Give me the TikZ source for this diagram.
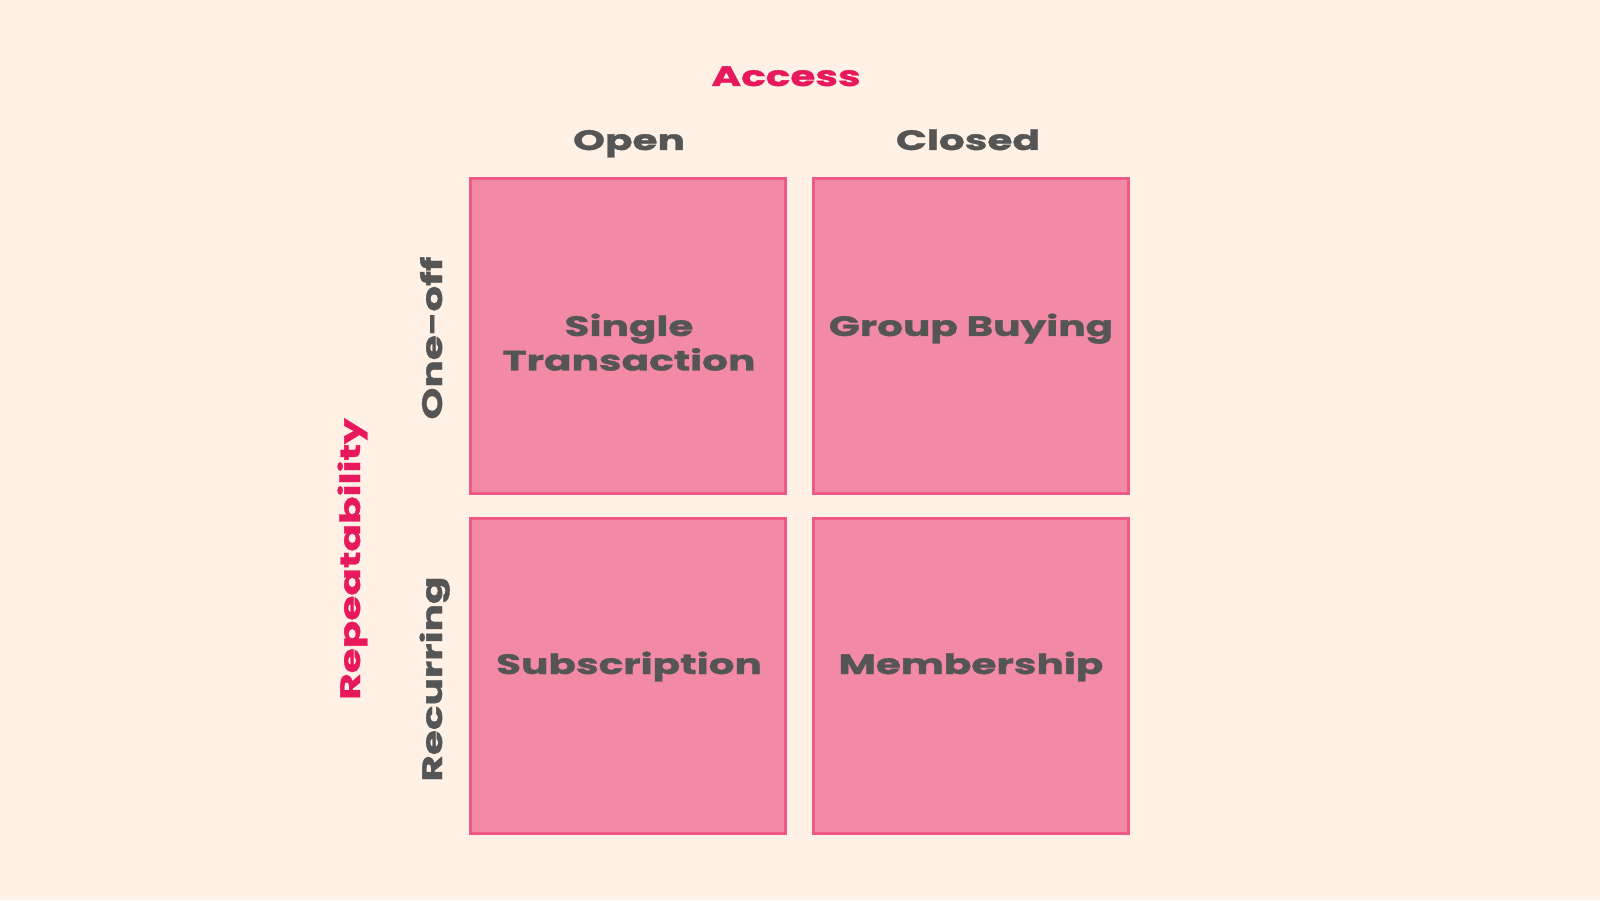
\documentclass[tikz,border=0pt]{standalone}
\usepackage{fontspec}
\setmainfont{Poppins}[FakeStretch=1.45,BoldFeatures={FakeBold=1.2}]
\usetikzlibrary{positioning,calc}
\definecolor{bgc}{HTML}{FFF1E6}
\definecolor{cellfill}{HTML}{F28AA5}
\definecolor{celldraw}{HTML}{EE5A87}
\definecolor{txtgray}{HTML}{555555}
\definecolor{accent}{HTML}{E8185D}
\tikzset{
  x=1pt,y=1pt,
  cell/.style={draw=celldraw,fill=cellfill,line width=3pt,minimum width=315pt,minimum height=315pt,inner sep=0pt},
  celltext/.style={font=\fontsize{28}{32}\selectfont\bfseries,text=txtgray,anchor=base,inner sep=0pt},
  headtext/.style={font=\fontsize{28}{32}\selectfont\bfseries,text=txtgray,anchor=base,inner sep=0pt},
  axistext/.style={font=\fontsize{28}{32}\selectfont\bfseries,text=accent,anchor=base,inner sep=0pt}
}
\begin{document}
\begin{tikzpicture}
\fill[bgc] (0,0) rectangle (1600,900);
\useasboundingbox (0,0) rectangle (1600,900);
% cells
\node[cell] (a) at (628,564) {};
\node[cell] (b) at (971,564) {};
\node[cell] (c) at (628,224) {};
\node[cell] (d) at (971,224) {};
% cell labels
\node[celltext] (la1) at (629,900-336) {Single};
\node[celltext] (la2) at (629,900-370.5) {Transaction};
\node[celltext] (lb) at (971,900-336) {Group Buying};
\node[celltext] (lc) at (629,900-674) {Subscription};
\node[celltext] (ld) at (971,900-674) {Membership};
% headers
\node[axistext] (access) at (786,900-86) {Access};
\node[headtext] (open) at (629,900-150) {Open};
\node[headtext] (closed) at (968,900-150) {Closed};
% row labels
\node[headtext,rotate=90] (oneoff) at (442,900-338) {One-off};
\node[headtext,rotate=90] (recur) at (442,900-679) {Recurring};
\node[axistext,rotate=90] (repeat) at (360,900-559) {Repeatability};
\end{tikzpicture}
\end{document}
